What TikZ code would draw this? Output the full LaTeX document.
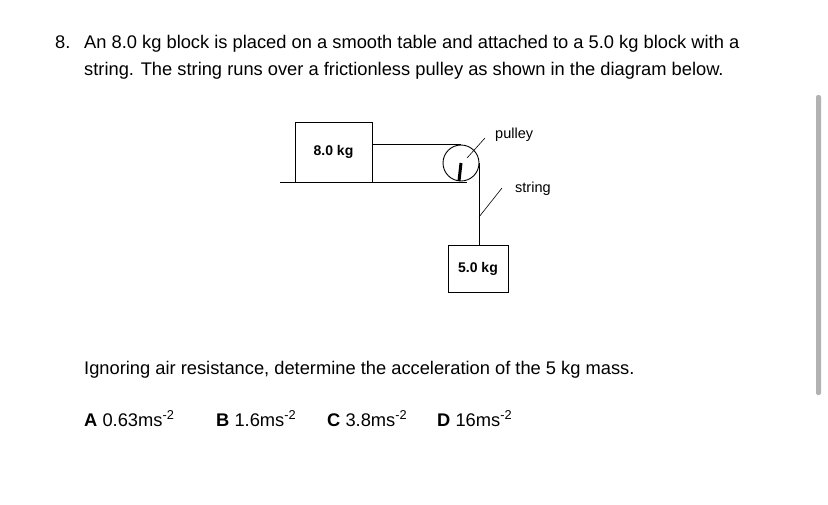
\documentclass[tikz,border=0pt]{standalone}
\usepackage{fontspec}
\setmainfont{Liberation Sans}
\begin{document}
\begin{tikzpicture}[x=1pt,y=-1pt,
  txt/.style={anchor=base west,inner sep=0pt,font=\fontsize{18.3}{22}\selectfont},
  small/.style={inner sep=0pt,font=\fontsize{14.5}{17}\selectfont},
  box/.style={draw,line width=0.9pt,inner sep=0pt,font=\fontsize{14}{16}\selectfont\bfseries},
  ln/.style={line width=0.9pt}]
\useasboundingbox[fill=white] (0,0) rectangle (828,504);
\node[txt] (n) at (55,48) {8.};
\node[txt] (l1) at (84,48) {An 8.0 kg block is placed on a smooth table and attached to a 5.0 kg block with a};
\node[txt] (l2) at (84,75) {string. The string runs over a frictionless pulley as shown in the diagram below.};
\node[box,minimum width=77pt,minimum height=60pt] (b8) at (333.5,152) {8.0 kg};
\node[box,minimum width=60pt,minimum height=47pt] (b5) at (478,268.5) {5.0 kg};
\coordinate (t0) at (280,182);
\coordinate (t1) at (467,182);
\draw[ln] (t0) -- (t1);
\node[draw,circle,line width=0.9pt,minimum size=36pt,inner sep=0pt] (p) at (461,163) {};
\draw[line width=3pt] (p.center) -- ++(-2,18);
\draw[ln] (b8.east |- p.north) -- (p.north);
\draw[ln] (p.east) -- (b5.north -| p.east);
\node[small,anchor=base west] (pl) at (495,138) {pulley};
\node[small,anchor=base west] (sl) at (515,192) {string};
\coordinate (pa) at (467,158); \coordinate (pb) at (485,138);
\draw[line width=0.6pt] (pa) -- (pb);
\coordinate (sa) at (479,217); \coordinate (sb) at (502,188);
\draw[line width=0.6pt] (sa) -- (sb);
\node[txt] (q) at (84,374) {Ignoring air resistance, determine the acceleration of the 5 kg mass.};
\node[txt] (a) at (84,426) {\textbf{A} 0.63ms\textsuperscript{-2}};
\node[txt] (b) at (216,426) {\textbf{B} 1.6ms\textsuperscript{-2}};
\node[txt] (c) at (327,426) {\textbf{C} 3.8ms\textsuperscript{-2}};
\node[txt] (d) at (437,426) {\textbf{D} 16ms\textsuperscript{-2}};
\fill[gray!60,rounded corners=2pt] (816,95) rectangle (821,395);
\end{tikzpicture}
\end{document}
